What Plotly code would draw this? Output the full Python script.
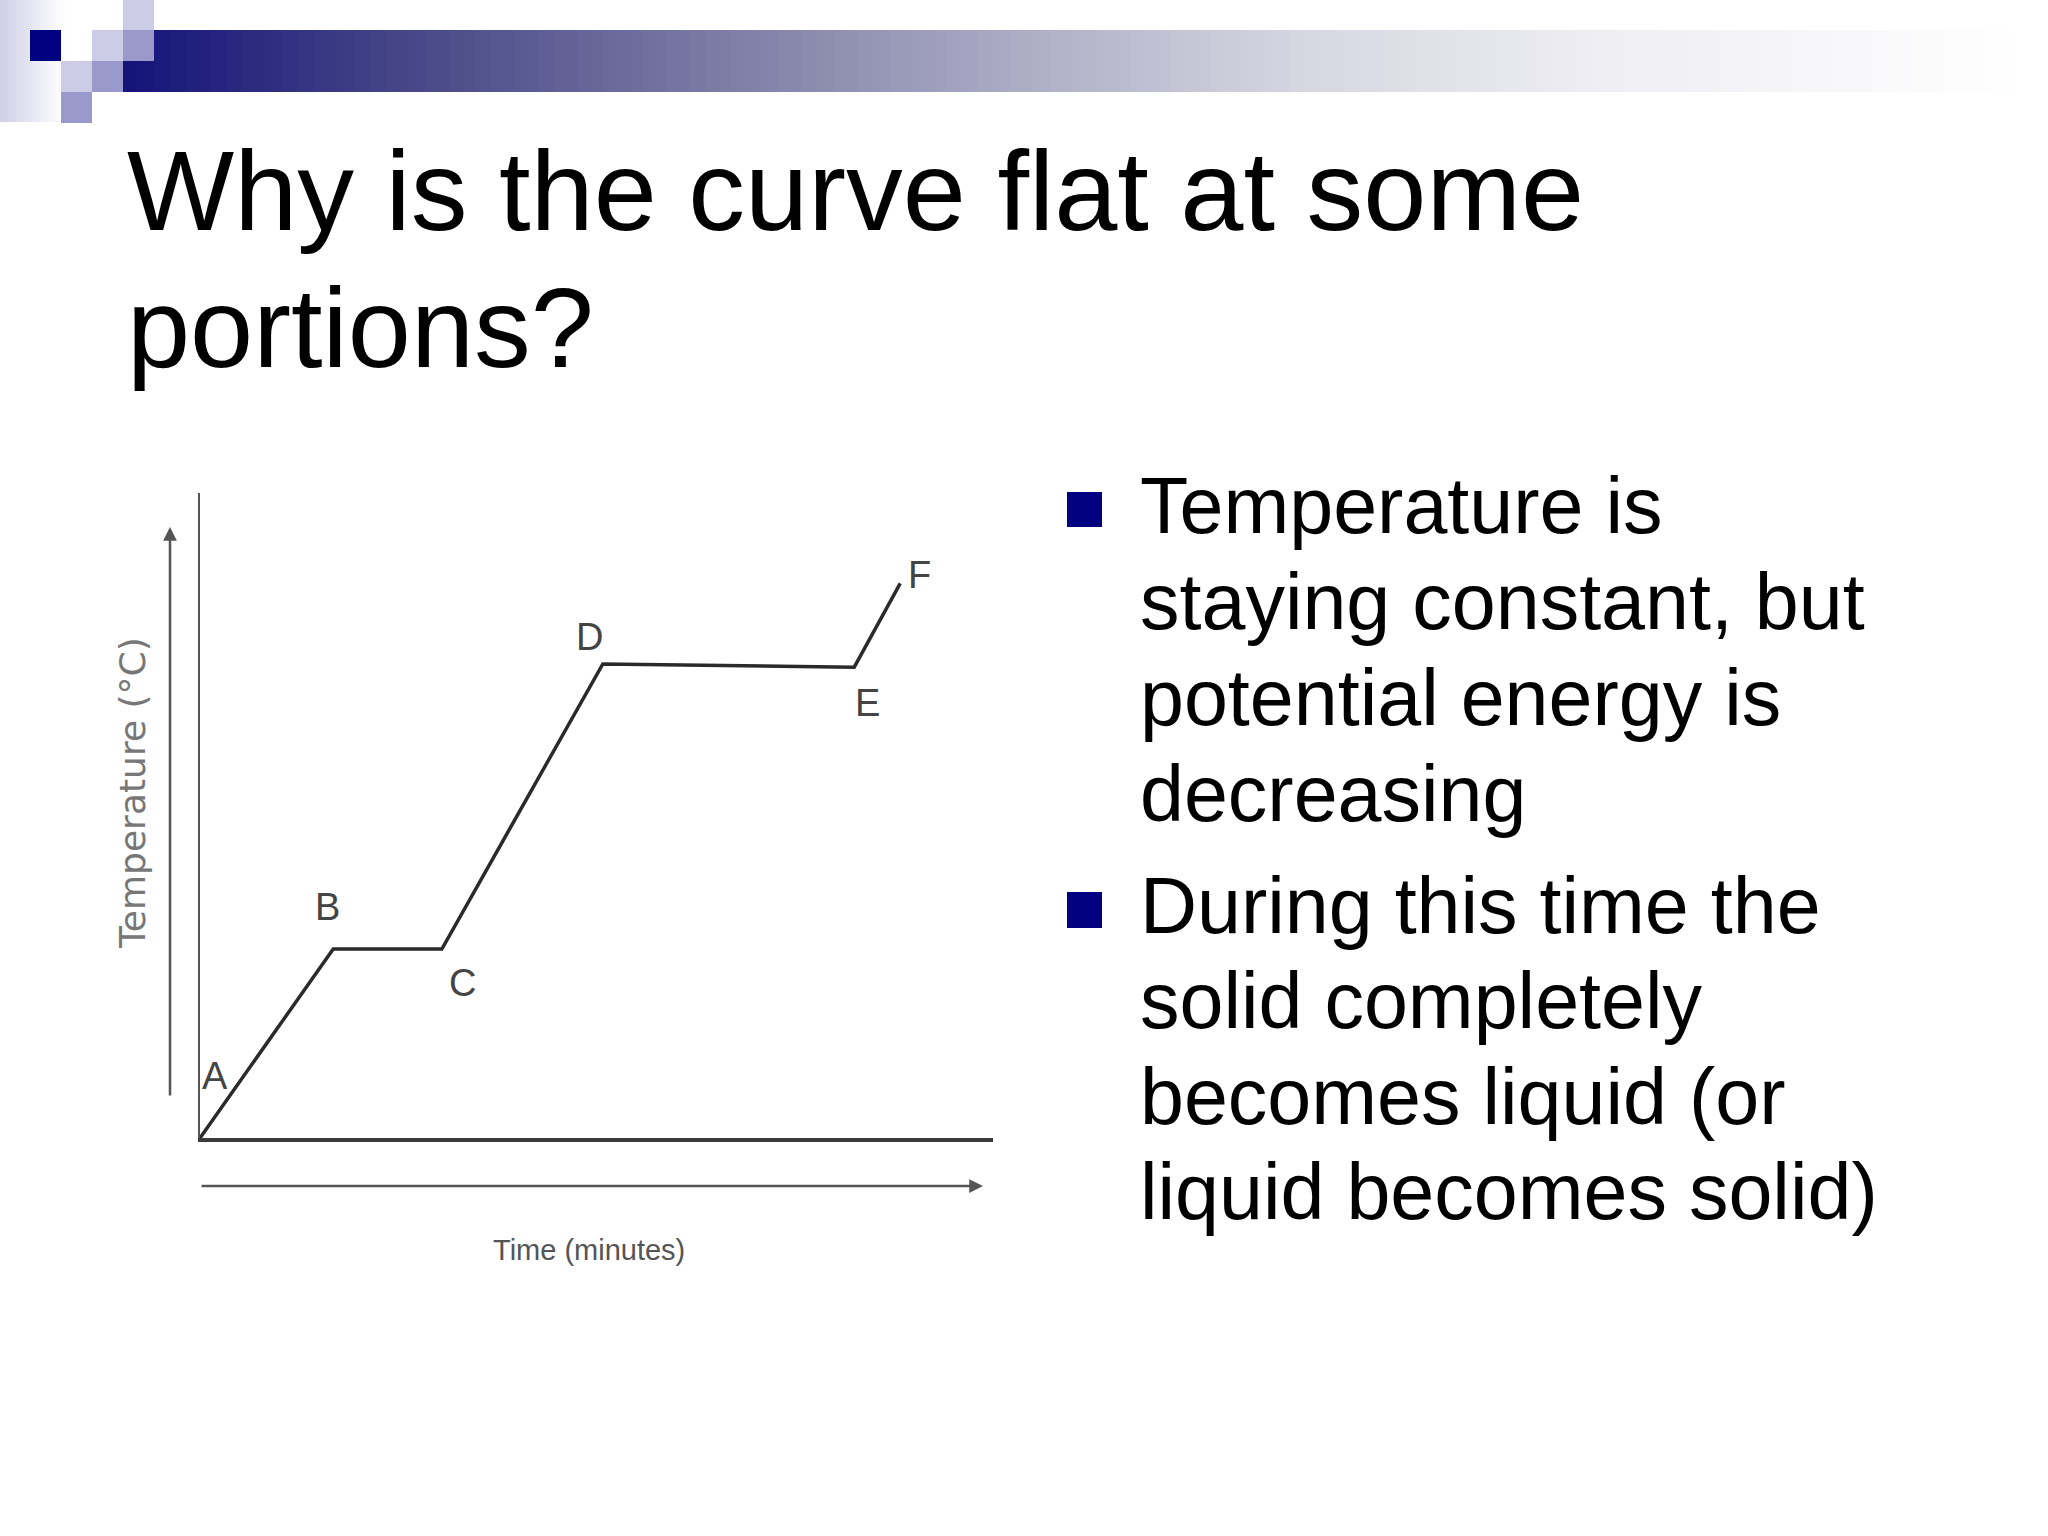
import plotly.graph_objects as go

# --- Daten ---
point_labels = ['A', 'B', 'C', 'D', 'E', 'F']
time_min = [0, 1.68, 3.05, 5.08, 8.25, 8.83]
temperature = [0, 2.93, 2.93, 7.35, 7.30, 8.60]

title_lines = ['Why is the curve flat at some', 'portions?']
bullet_1 = ['Temperature is', 'staying constant, but', 'potential energy is', 'decreasing']
bullet_2 = ['During this time the', 'solid completely', 'becomes liquid (or', 'liquid becomes solid)']

W, H = 2048, 1536


def px(x):
    return x / W


def py(y):
    return 1 - y / H


def lerp_color(stops, x):
    for (x0, c0), (x1, c1) in zip(stops, stops[1:]):
        if x <= x1:
            f = (x - x0) / (x1 - x0) if x1 > x0 else 0
            return 'rgb(%d,%d,%d)' % tuple(round(a + (b - a) * f) for a, b in zip(c0, c1))
    return 'rgb(%d,%d,%d)' % stops[-1][1]


def rect(x0, y0, x1, y1, color):
    return dict(type='rect', xref='paper', yref='paper',
                x0=px(x0), x1=px(x1), y0=py(y1), y1=py(y0),
                fillcolor=color, line=dict(width=0), layer='below')


shapes = []

# --- Kopfleiste: Farbverlauf + Quadrate ---
strip_stops = [(0, (208, 208, 232)), (62, (255, 255, 255))]
for x in range(0, 62, 4):
    shapes.append(rect(x, 0, x + 5, 122, lerp_color(strip_stops, x)))

bar_stops = [(123, (20, 20, 122)), (400, (70, 70, 135)), (780, (135, 135, 172)),
             (1000, (170, 170, 196)), (1300, (215, 215, 226)), (1600, (238, 238, 243)),
             (2020, (255, 255, 255))]
for x in range(123, 2020, 8):
    shapes.append(rect(x, 30, x + 9, 92, lerp_color(bar_stops, x)))

dark, light, medium = '#000080', '#CCCCE6', '#9999CC'
for x0, y0, c in [(30, 30, dark), (123, 0, light), (92, 30, light), (123, 30, medium),
                  (61, 61, light), (92, 61, medium), (61, 92, medium)]:
    shapes.append(rect(x0, y0, x0 + 31, y0 + 31, c))

# Aufzählungszeichen
shapes.append(rect(1067, 492, 1102, 527, dark))
shapes.append(rect(1067, 892, 1102, 928, dark))

annotations = []


def text_line(s, x, baseline, size, color='black', family='Liberation Sans, Arial, sans-serif'):
    top = baseline - 0.905 * size - 2
    annotations.append(dict(text=s, xref='paper', yref='paper', x=px(x), y=py(top),
                            xanchor='left', yanchor='top', showarrow=False,
                            font=dict(size=size, color=color, family=family)))


# Titel
for line, base in zip(title_lines, [230, 367]):
    text_line(line, 125, base, 113.5)

# Stichpunkte
for line, base in zip(bullet_1, [532, 628, 724, 820]):
    text_line(line, 1138, base, 79)
for line, base in zip(bullet_2, [932, 1027, 1123, 1218]):
    text_line(line, 1138, base, 79)

# --- Diagramm ---
narrow = 'Liberation Sans Narrow, Arial Narrow, Liberation Sans, sans-serif'
label_shift = {'A': (15, 62), 'B': (-6, 42), 'C': (21, -34),
               'D': (-13, 27), 'E': (13, -36), 'F': (19, 8)}
for lab, t, temp in zip(point_labels, time_min, temperature):
    dx, dy = label_shift[lab]
    annotations.append(dict(text=lab, x=t, y=temp, xref='x', yref='y',
                            xshift=dx, yshift=dy, showarrow=False,
                            xanchor='center', yanchor='middle',
                            font=dict(size=38, color='#444', family=narrow)))

# Achsenpfeile
annotations.append(dict(text='', xref='paper', yref='paper', x=px(170), y=py(527),
                        ax=0, ay=570, showarrow=True, arrowhead=2, arrowsize=1.1,
                        arrowwidth=2.5, arrowcolor='#555'))
annotations.append(dict(text='', xref='paper', yref='paper', x=px(983), y=py(1186),
                        ax=-783, ay=0, showarrow=True, arrowhead=2, arrowsize=1.1,
                        arrowwidth=2.5, arrowcolor='#555'))

# Achsentitel
annotations.append(dict(text='Time (minutes)', xref='paper', yref='paper',
                        x=px(589), y=py(1250), showarrow=False,
                        xanchor='center', yanchor='middle',
                        font=dict(size=29, color='#555', family=narrow)))
annotations.append(dict(text='Temperature (°C)', xref='paper', yref='paper',
                        x=px(132), y=py(793), showarrow=False, textangle=-90,
                        xanchor='center', yanchor='middle',
                        font=dict(size=36, color='#777', family='DejaVu Sans, sans-serif')))

fig = go.Figure(go.Scatter(
    x=time_min, y=temperature, mode='lines',
    line=dict(color='#2a2a2a', width=3.5),
    cliponaxis=False, hoverinfo='skip'
))

fig.update_layout(
    width=W, height=H,
    margin=dict(l=0, r=0, t=0, b=0),
    paper_bgcolor='white', plot_bgcolor='white',
    showlegend=False,
    xaxis=dict(domain=[px(200), px(993)], range=[0, 10], showgrid=False, zeroline=False,
               showticklabels=False, ticks='', showline=True, linecolor='#3a3a3a', linewidth=3.5,
               fixedrange=True),
    yaxis=dict(domain=[py(1138), py(493)], range=[0, 10], showgrid=False, zeroline=False,
               showticklabels=False, ticks='', showline=True, linecolor='#555', linewidth=2,
               fixedrange=True),
    shapes=shapes,
    annotations=annotations,
)

fig.write_html('out.html', config={'displayModeBar': False},
               post_script="document.body.style.margin='0';")
